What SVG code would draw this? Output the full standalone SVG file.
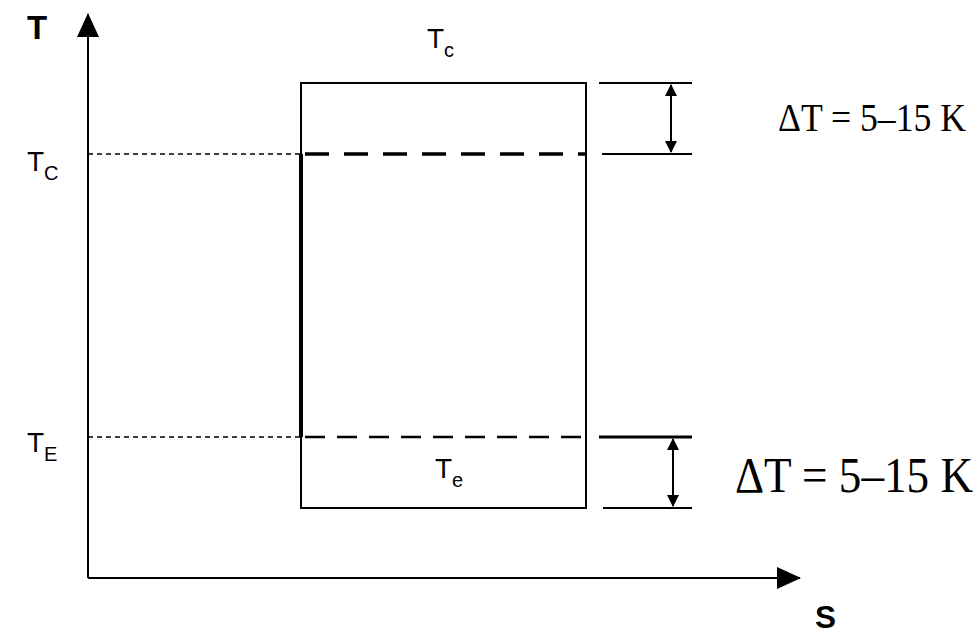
<svg xmlns="http://www.w3.org/2000/svg" width="979" height="636" viewBox="0 0 979 636">
<defs>
<marker id="ah" markerWidth="12" markerHeight="12" refX="11" refY="6" orient="auto-start-reverse" markerUnits="userSpaceOnUse"><path d="M0,0 L12,6 L0,12 z" fill="#000"/></marker>
<marker id="big" markerWidth="24" markerHeight="22" refX="23" refY="11" orient="auto" markerUnits="userSpaceOnUse"><path d="M0,0 L24,11 L0,22 z" fill="#000"/></marker>
<style>
.s{font-family:"Liberation Sans",Arial,sans-serif;fill:#000}
.r{font-family:"Liberation Serif","Times New Roman",serif;fill:#000}
line{stroke:#000}
</style>
</defs>
<rect width="979" height="636" fill="#fff"/>
<g id="axes">
<line x1="88" y1="578" x2="88" y2="14" stroke-width="2" marker-end="url(#big)"/>
<line x1="88" y1="578" x2="800" y2="578" stroke-width="2" marker-end="url(#big)"/>
<text class="s" x="27" y="39" font-size="33" font-weight="bold">T</text>
<text class="s" x="815" y="628" font-size="32" font-weight="bold" textLength="21" lengthAdjust="spacingAndGlyphs">S</text>
</g>
<g id="box">
<rect x="301" y="83" width="285" height="425" fill="none" stroke="#000" stroke-width="2"/>
<line x1="301" y1="154" x2="301" y2="437" stroke-width="4"/>
<text class="s" x="427" y="48" font-size="28">T<tspan font-size="20" dy="9">c</tspan></text>
<text class="s" x="435" y="478" font-size="28">T<tspan font-size="20" dy="9">e</tspan></text>
</g>
<g id="levels">
<line x1="88" y1="154" x2="301" y2="154" stroke-width="1.5" stroke-dasharray="5,4"/>
<line x1="305" y1="154" x2="586" y2="154" stroke-width="3.5" stroke-dasharray="24,15"/>
<line x1="88" y1="437" x2="301" y2="437" stroke-width="1.5" stroke-dasharray="5,4"/>
<line x1="305" y1="437" x2="586" y2="437" stroke-width="2.5" stroke-dasharray="20,12"/>
<text class="s" x="27" y="171" font-size="28">T<tspan font-size="20" dy="9">C</tspan></text>
<text class="s" x="27" y="452" font-size="28">T<tspan font-size="20" dy="9">E</tspan></text>
</g>
<g id="dims">
<line x1="599" y1="83" x2="692" y2="83" stroke-width="2"/>
<line x1="602" y1="154" x2="692" y2="154" stroke-width="2"/>
<line x1="671" y1="85" x2="671" y2="152" stroke-width="2" marker-start="url(#ah)" marker-end="url(#ah)"/>
<text class="r" x="778" y="131" font-size="40" textLength="188" lengthAdjust="spacingAndGlyphs">ΔT = 5–15 K</text>
<line x1="599" y1="437" x2="692" y2="437" stroke-width="3"/>
<line x1="603" y1="508" x2="692" y2="508" stroke-width="2"/>
<line x1="673" y1="439" x2="673" y2="506" stroke-width="2" marker-start="url(#ah)" marker-end="url(#ah)"/>
<text class="r" x="735" y="492" font-size="50" textLength="238" lengthAdjust="spacingAndGlyphs">ΔT = 5–15 K</text>
</g>
</svg>
